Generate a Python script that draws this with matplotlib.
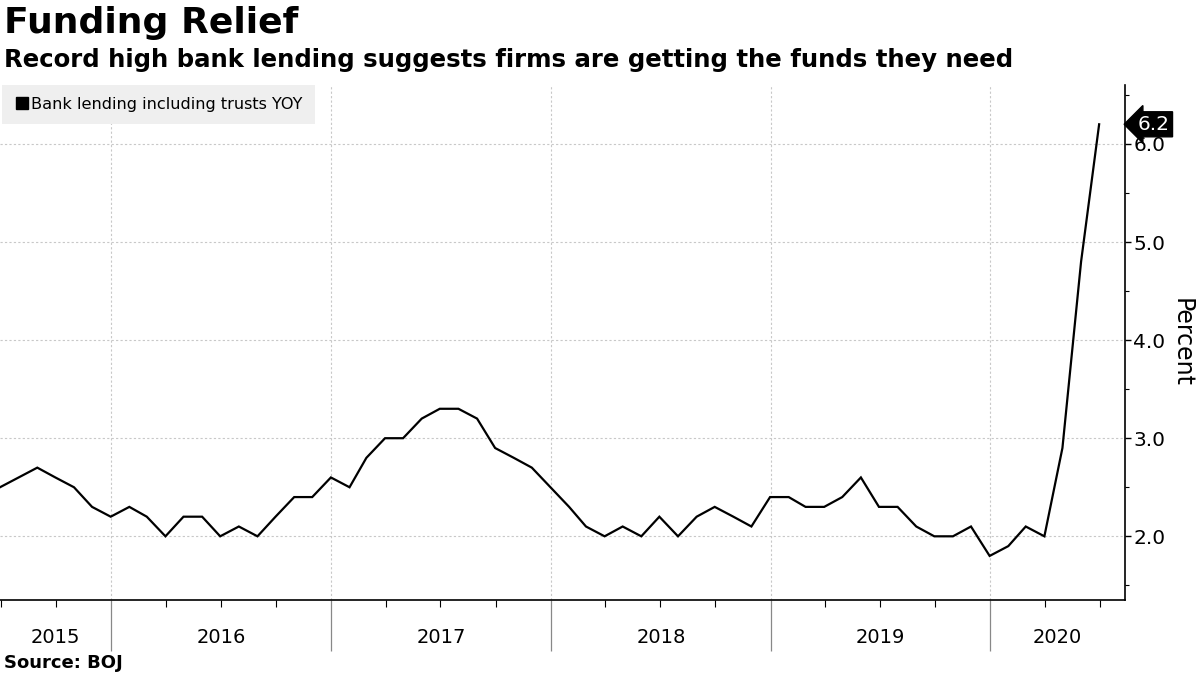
import numpy as np
import pandas as pd
import matplotlib
matplotlib.use('Agg')
import matplotlib.pyplot as plt
import matplotlib.dates as mdates
from matplotlib.lines import Line2D
from matplotlib.transforms import blended_transform_factory

# データ (月末, 前年比 %)
dates = pd.date_range('2015-06-30', periods=61, freq='ME')
lending_yoy = [
    2.5, 2.6, 2.7, 2.6, 2.5, 2.3, 2.2,                          # 2015 Jun-Dec
    2.3, 2.2, 2.0, 2.2, 2.2, 2.0, 2.1, 2.0, 2.2, 2.4, 2.4, 2.6,  # 2016
    2.5, 2.8, 3.0, 3.0, 3.2, 3.3, 3.3, 3.2, 2.9, 2.8, 2.7, 2.5,  # 2017
    2.3, 2.1, 2.0, 2.1, 2.0, 2.2, 2.0, 2.2, 2.3, 2.2, 2.1, 2.4,  # 2018
    2.4, 2.3, 2.3, 2.4, 2.6, 2.3, 2.3, 2.1, 2.0, 2.0, 2.1, 1.8,  # 2019
    1.9, 2.1, 2.0, 2.9, 4.8, 6.2,                               # 2020 Jan-Jun
]
years = [2015, 2016, 2017, 2018, 2019, 2020]
series_name = 'Bank lending including trusts YOY'

TITLE = 'Funding Relief'
SUBTITLE = 'Record high bank lending suggests firms are getting the funds they need'
SOURCE = 'Source: BOJ'

plt.rcParams['font.family'] = ['DejaVu Sans']

fig = plt.figure(figsize=(12, 6.75), dpi=100)
ax = fig.add_axes([0.0, 0.111, 0.9375, 0.763])

ax.plot(dates, lending_yoy, color='black', lw=1.6, solid_joinstyle='miter')

x0 = pd.Timestamp('2015-06-30')
x1 = pd.Timestamp('2020-08-12')
ax.set_xlim(x0, x1)
ax.set_ylim(1.35, 6.6)

# spines
for s in ['left', 'top']:
    ax.spines[s].set_visible(False)
ax.spines['bottom'].set_linewidth(1.2)
ax.spines['right'].set_linewidth(1.2)

# y軸 (右)
ax.yaxis.tick_right()
ax.yaxis.set_label_position('right')
ax.set_yticks([2.0, 3.0, 4.0, 5.0, 6.0])
ax.set_yticks(np.arange(1.5, 6.6, 1.0), minor=True)
ax.yaxis.set_major_formatter(matplotlib.ticker.FormatStrFormatter('%.1f'))
ax.tick_params(axis='y', which='major', length=4, width=1, labelsize=14.5, pad=2)
ax.tick_params(axis='y', which='minor', length=3, width=0.8)
ax.set_ylabel('Percent', fontsize=17, rotation=-90, labelpad=20)

# x軸
ax.xaxis.set_major_locator(mdates.YearLocator())
ax.xaxis.set_minor_locator(mdates.MonthLocator(bymonth=(1, 4, 7, 10)))
ax.tick_params(axis='x', which='major', length=37, width=0.9, color='#888888',
               labelbottom=False)
ax.tick_params(axis='x', which='minor', length=5, width=0.8, color='black')

ax.grid(axis='y', which='major', ls=(0, (2, 2)), color='#c8c8c8', lw=0.8)
ax.grid(axis='x', which='major', ls=(0, (2, 2)), color='#c8c8c8', lw=0.8)

# 年ラベル
trans = blended_transform_factory(ax.transData, ax.transAxes)
for y in years:
    a = max(pd.Timestamp(f'{y}-01-01'), x0)
    b = min(pd.Timestamp(f'{y + 1}-01-01'), x1)
    mid = a + (b - a) / 2
    ax.text(mid, -0.072, str(y), transform=trans, ha='center', va='center',
            fontsize=14)

# 最新値ラベル
ax.annotate(f'{lending_yoy[-1]:.1f}', xy=(1.0, lending_yoy[-1]),
            xycoords=blended_transform_factory(ax.transAxes, ax.transData),
            xytext=(9, 0), textcoords='offset points', ha='left', va='center',
            fontsize=14.5, color='white',
            bbox=dict(boxstyle='larrow,pad=0.15', fc='black', ec='black'))

# 凡例
leg = ax.legend(handles=[Line2D([], [], marker='s', ls='none', color='black',
                                markersize=9)],
                labels=[series_name], loc='upper left',
                bbox_to_anchor=(0.0015, 1.0), frameon=True, fontsize=11.6,
                handletextpad=0.1, borderpad=0.75, handlelength=1.0,
                borderaxespad=0.0)
leg.get_frame().set_facecolor('#efefef')
leg.get_frame().set_edgecolor('none')
leg.get_frame().set_boxstyle('square,pad=0')
leg.get_frame().set_alpha(1)

# タイトル
fig.text(0.003, 0.966, TITLE, fontsize=26, fontweight='bold', va='center')
fig.text(0.003, 0.911, SUBTITLE, fontsize=17.6, fontweight='bold', va='center')
fig.text(0.003, 0.018, SOURCE, fontsize=13, fontweight='bold', va='center')

fig.savefig('out.png', dpi=100)
